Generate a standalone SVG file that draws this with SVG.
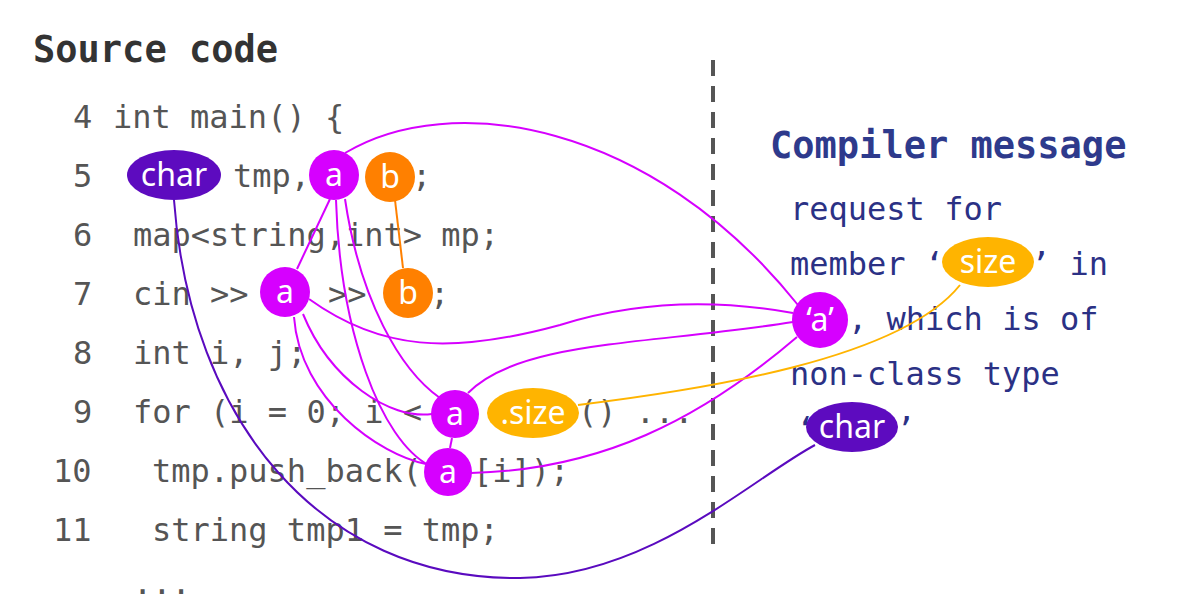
<svg xmlns="http://www.w3.org/2000/svg" width="1200" height="605" viewBox="0 0 1200 605">
<style>
.code{font-family:"DejaVu Sans Mono",monospace;font-size:32px;fill:#555}
.msg{font-family:"DejaVu Sans Mono",monospace;font-size:32px;fill:#2b3185}
.h{font-family:"DejaVu Sans Mono",monospace;font-size:37px;font-weight:bold}
.lab{font-family:"Noto Sans",sans-serif;font-size:32px;fill:#fff;text-anchor:middle}
.m{fill:none;stroke:#d600ff;stroke-width:2}
</style>
<rect width="1200" height="605" fill="#fff"/>
<text x="33" y="62" class="h" fill="#333">Source code</text>
<text x="770" y="158" class="h" fill="#2e3a8c">Compiler message</text>
<g id="code">
<text class="code" x="73" y="128">4<tspan x="113">int main() {</tspan></text>
<text class="code" x="73" y="187">5<tspan x="233">tmp,</tspan><tspan x="412">;</tspan></text>
<text class="code" x="73" y="246">6<tspan x="133">map&lt;string,int&gt; mp;</tspan></text>
<text class="code" x="73" y="305">7<tspan x="133">cin &gt;&gt;</tspan><tspan x="328">&gt;&gt;</tspan><tspan x="430">;</tspan></text>
<text class="code" x="73" y="364">8<tspan x="133">int i, j;</tspan></text>
<text class="code" x="73" y="423">9<tspan x="133">for (i = 0; i &lt;</tspan><tspan x="578">() ...</tspan></text>
<text class="code" x="53" y="482">10<tspan x="152">tmp.push_back(</tspan><tspan x="473">[i]);</tspan></text>
<text class="code" x="53" y="541">11<tspan x="152">string tmp1 = tmp;</tspan></text>
<text class="code" x="133" y="594">...</text>
</g>
<g id="message">
<text class="msg" x="790" y="220">request for</text>
<text class="msg" x="790" y="275">member ‘<tspan x="1031">’ in</tspan></text>
<text class="msg" x="848" y="330">, which is of</text>
<text class="msg" x="790" y="385">non-class type</text>
<text class="msg" x="796" y="440">‘<tspan x="896">’</tspan></text>
</g>
<line id="divider" x1="713" y1="60" x2="713" y2="548" stroke="#555" stroke-width="4" stroke-dasharray="16 10"/>
<g id="connectors">
<path class="m" d="M345,153 C450,90 650,120 798,305"/>
<path class="m" d="M330,199 L297,269"/>
<path class="m" d="M336,200 C340,330 380,440 430,466"/>
<path class="m" d="M345,199 C360,300 400,370 440,398"/>
<path class="m" d="M309,299 C380,350 450,355 560,325 C640,300 720,300 793,313"/>
<path class="m" d="M303,314 C330,380 390,420 432,414"/>
<path class="m" d="M294,317 C300,400 380,455 426,464"/>
<path class="m" d="M468,393 C520,340 650,345 793,322"/>
<path class="m" d="M452,438 L450,448"/>
<path class="m" d="M471,473 C600,470 700,420 797,337"/>
<path d="M395,200 L403,268" fill="none" stroke="#ff8000" stroke-width="2"/>
<path d="M578,405 C700,390 900,360 960,285" fill="none" stroke="#ffb400" stroke-width="2"/>
<path d="M174,200 C190,420 320,580 520,578 C650,576 750,480 815,445" fill="none" stroke="#5a0abf" stroke-width="2"/>
</g>
<g id="n-char"><ellipse cx="174" cy="175" rx="47" ry="25" fill="#5d0bbf"/><text class="lab" x="174" y="186">char</text></g>
<g id="n-a1"><circle cx="334" cy="175" r="25" fill="#d600ff"/><text class="lab" x="334" y="186">a</text></g>
<g id="n-b1"><circle cx="390" cy="177" r="25" fill="#ff8000"/><text class="lab" x="390" y="188">b</text></g>
<g id="n-a2"><circle cx="285" cy="292" r="25" fill="#d600ff"/><text class="lab" x="285" y="303">a</text></g>
<g id="n-b2"><circle cx="408" cy="293" r="25" fill="#ff8000"/><text class="lab" x="408" y="304">b</text></g>
<g id="n-a3"><circle cx="455" cy="414" r="24" fill="#d600ff"/><text class="lab" x="455" y="425">a</text></g>
<g id="n-size"><ellipse cx="533" cy="413" rx="46" ry="25" fill="#ffb400"/><text class="lab" x="533" y="424">.size</text></g>
<g id="n-a4"><circle cx="448" cy="472" r="24" fill="#d600ff"/><text class="lab" x="448" y="483">a</text></g>
<g id="n-ra"><circle cx="820" cy="320" r="28" fill="#d600ff"/><text class="lab" x="820" y="331">‘a’</text></g>
<g id="n-rsize"><ellipse cx="988" cy="262" rx="46" ry="25" fill="#ffb400"/><text class="lab" x="988" y="273">size</text></g>
<g id="n-rchar"><ellipse cx="852" cy="427" rx="46" ry="25" fill="#5d0bbf"/><text class="lab" x="852" y="438">char</text></g>
</svg>
